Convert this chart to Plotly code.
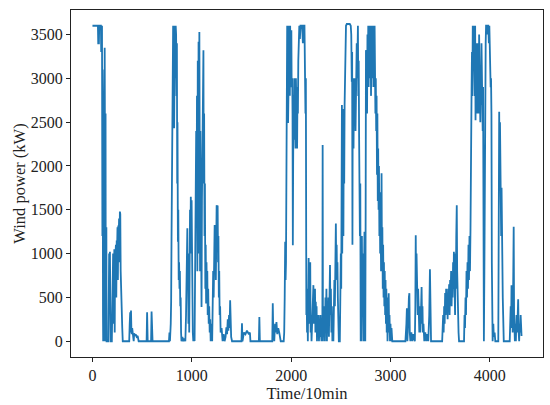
import plotly.graph_objects as go

# wind power series, 10-min samples (vertices only)

# part 1: t = 0 .. 760
t_a = [0, 20, 40, 55, 58, 65, 68, 85, 88, 92, 96, 100, 103, 106, 108, 112, 115, 118, 120, 123,
       126, 128, 130, 132, 134, 136, 138, 140, 142, 150, 160, 165, 168, 172, 176, 180, 183, 195,
       200, 205, 208, 212, 215, 220, 224, 228, 232, 236, 240, 244, 248, 252, 256, 260, 264, 268,
       272, 276, 280, 284, 288, 292, 296, 300, 305, 370, 375, 380, 384, 388, 392, 396, 400, 405,
       410, 415, 420, 428, 435, 445, 455, 465, 545, 550, 556, 590, 595, 600, 605, 760]
p_a = [3600, 3600, 3600, 3600, 3400, 3400, 3600, 3600, 3300, 3600, 3600, 1200, 2800, 300, 0, 2500,
       800, 3100, 0, 3350, 1500, 3200, 600, 2600, 0, 1400, 200, 1300, 0, 0, 0, 600, 1000, 900, 1020,
       300, 0, 0, 300, 900, 1000, 200, 980, 1050, 100, 1050, 1000, 1100, 500, 1150, 1050, 1300, 700,
       1320, 1200, 1400, 900, 1480, 1450, 800, 500, 400, 200, 150, 0, 0, 200, 330, 100, 350, 120, 80,
       150, 60, 100, 0, 90, 60, 80, 50, 60, 0, 0, 330, 0, 0, 340, 200, 0, 0]

# part 2: t = 760 .. 1900
t_b = [770, 775, 780, 788, 792, 796, 800, 803, 806, 812, 815, 818, 822, 825, 830, 835, 838, 842,
       846, 850, 853, 856, 860, 864, 868, 872, 876, 880, 884, 888, 892, 896, 905, 915, 925, 935,
       942, 946, 950, 955, 958, 962, 966, 970, 974, 978, 982, 986, 990, 994, 998, 1002, 1006, 1010,
       1015, 1022, 1028, 1032, 1036, 1040, 1044, 1048, 1052, 1056, 1060, 1064, 1068, 1072, 1076,
       1080, 1083, 1086, 1090, 1094, 1098, 1102, 1106, 1110, 1114, 1117, 1120, 1124, 1128, 1132,
       1136, 1140, 1144, 1148, 1152, 1156, 1160, 1165, 1170, 1175, 1180, 1185, 1190, 1195, 1200,
       1205, 1210, 1215, 1220, 1225, 1230, 1234, 1238, 1242, 1246, 1250, 1255, 1260, 1264, 1268,
       1272, 1276, 1280, 1285, 1290, 1300, 1310, 1320, 1330, 1340, 1348, 1355, 1362, 1368, 1375,
       1380, 1386, 1391, 1396, 1405, 1500, 1505, 1510, 1525, 1540, 1555, 1565, 1575, 1585, 1590,
       1675, 1680, 1685, 1810, 1815, 1820, 1830, 1838, 1845, 1852, 1860, 1870, 1880, 1888, 1895]
p_b = [0, 100, 0, 200, 450, 1200, 1820, 3000, 3600, 3600, 3200, 3600, 2430, 3600, 3600, 3000, 3600,
       3500, 2800, 3400, 1800, 2500, 1134, 1500, 700, 900, 600, 800, 400, 500, 100, 0, 50, 0, 30, 0,
       300, 800, 400, 1290, 600, 1000, 200, 800, 100, 1200, 1500, 1000, 1648, 1200, 1610, 800, 400,
       100, 0, 50, 0, 800, 1610, 1200, 2400, 1500, 2800, 800, 3200, 1000, 3418, 2000, 3530, 2600,
       800, 2400, 677, 1200, 390, 1600, 2500, 2900, 3304, 3320, 1800, 2600, 1200, 1800, 600, 1100,
       430, 900, 500, 800, 300, 600, 200, 400, 100, 250, 0, 100, 200, 0, 300, 800, 500, 1000, 1325,
       900, 1200, 700, 1400, 1553, 1300, 1550, 900, 1200, 500, 800, 300, 400, 100, 150, 0, 80, 0, 50,
       160, 80, 250, 120, 300, 150, 468, 200, 50, 0, 0, 205, 0, 100, 80, 120, 100, 80, 100, 0, 0,
       277, 0, 0, 434, 100, 0, 200, 100, 220, 80, 150, 100, 60, 0]

# part 3: t = 1900 .. 3030
t_c = [1925, 1930, 1935, 1940, 1944, 1948, 1952, 1956, 1960, 1963, 1966, 1969, 1972, 1975, 1978,
       1981, 1984, 1987, 1990, 1993, 1996, 1999, 2002, 2005, 2008, 2011, 2014, 2017, 2020, 2024,
       2028, 2032, 2036, 2040, 2044, 2048, 2052, 2056, 2060, 2064, 2068, 2072, 2076, 2082, 2088,
       2094, 2110, 2118, 2124, 2134, 2140, 2144, 2148, 2150, 2153, 2156, 2160, 2164, 2168, 2172,
       2176, 2180, 2184, 2188, 2192, 2196, 2200, 2205, 2210, 2215, 2220, 2224, 2228, 2232, 2236,
       2240, 2244, 2248, 2252, 2256, 2260, 2265, 2270, 2275, 2280, 2285, 2290, 2295, 2300, 2305,
       2310, 2314, 2317, 2320, 2325, 2330, 2335, 2340, 2345, 2350, 2355, 2360, 2365, 2370, 2375,
       2380, 2385, 2391, 2395, 2400, 2405, 2410, 2415, 2420, 2425, 2430, 2435, 2440, 2445, 2450,
       2454, 2458, 2462, 2466, 2470, 2475, 2480, 2490, 2495, 2500, 2504, 2508, 2511, 2514, 2517,
       2520, 2523, 2526, 2530, 2534, 2538, 2542, 2546, 2552, 2560, 2575, 2590, 2600, 2605, 2610,
       2614, 2617, 2620, 2624, 2628, 2632, 2636, 2640, 2644, 2648, 2652, 2656, 2660, 2664, 2668,
       2672, 2676, 2680, 2684, 2688, 2692, 2696, 2700, 2704, 2708, 2712, 2716, 2720, 2724, 2730,
       2734, 2738, 2742, 2746, 2750, 2753, 2756, 2760, 2764, 2768, 2772, 2776, 2780, 2784, 2788,
       2792, 2796, 2800, 2804, 2808, 2812, 2816, 2820, 2824, 2828, 2832, 2836, 2840, 2844, 2848,
       2852, 2856, 2860, 2864, 2868, 2872, 2876, 2880, 2884, 2888, 2892, 2896, 2900, 2905, 2910,
       2914, 2918, 2922, 2926, 2930, 2934, 2938, 2942, 2946, 2950, 2954, 2958, 2962, 2966, 2970,
       2974, 2978, 2982, 2986, 2990, 2995, 3000, 3005, 3010, 3018]
p_c = [0, 100, 500, 1134, 700, 900, 2000, 3000, 3600, 3200, 3600, 2490, 3500, 3000, 3600, 2900, 3400,
       2800, 3600, 3100, 3600, 3200, 3550, 2900, 3400, 3000, 2600, 1096, 2000, 2800, 2300, 3000, 2400,
       2900, 2200, 3000, 2500, 2700, 2200, 2900, 2600, 3200, 3600, 3600, 3450, 3600, 3600, 3400, 3600,
       3600, 3000, 2600, 3000, 1000, 300, 600, 100, 400, 0, 500, 950, 200, 800, 300, 900, 100, 300, 0,
       200, 100, 400, 640, 200, 500, 300, 600, 100, 450, 200, 400, 0, 250, 100, 300, 0, 200, 50, 300,
       100, 0, 150, 0, 2238, 0, 300, 100, 400, 0, 500, 200, 600, 0, 350, 100, 500, 50, 600, 870, 300,
       600, 100, 400, 0, 200, 0, 300, 700, 400, 1000, 1344, 800, 1100, 700, 900, 500, 200, 0, 0, 300,
       1000, 600, 2000, 2695, 1000, 2400, 1400, 2650, 1200, 2600, 1800, 2700, 3200, 3500, 3600, 3620,
       3620, 3620, 3600, 3500, 2960, 3300, 1100, 2900, 2600, 2200, 3000, 2700, 2500, 3000, 2400, 2900,
       2600, 3400, 3000, 3400, 3600, 2800, 3200, 2330, 2000, 1200, 1800, 0, 300, 0, 1200, 600, 1000, 0,
       0, 800, 1250, 400, 0, 1500, 3322, 2800, 3300, 2600, 3500, 3000, 3600, 2900, 3500, 3000, 3600,
       3100, 3600, 2800, 3550, 3000, 3600, 3200, 3600, 2900, 3500, 3000, 3600, 3100, 2600, 3000, 2400,
       2800, 1900, 2600, 1600, 2200, 1500, 2000, 1200, 1700, 1000, 1500, 800, 1918, 900, 1300, 600,
       1100, 500, 900, 400, 800, 300, 700, 200, 600, 100, 500, 0, 400, 200, 548, 100, 300, 0, 200, 0,
       150, 0]

# part 4: t = 3030 .. 4319
t_d = [3150, 3160, 3165, 3170, 3175, 3180, 3185, 3190, 3194, 3200, 3210, 3220, 3230, 3245, 3250,
       3254, 3258, 3262, 3266, 3270, 3274, 3278, 3282, 3286, 3290, 3295, 3300, 3306, 3313, 3318,
       3322, 3326, 3332, 3340, 3350, 3360, 3370, 3380, 3390, 3397, 3402, 3408, 3520, 3525, 3530,
       3535, 3540, 3545, 3550, 3555, 3560, 3565, 3570, 3575, 3580, 3585, 3590, 3595, 3600, 3605,
       3610, 3615, 3620, 3625, 3630, 3634, 3638, 3642, 3646, 3650, 3654, 3658, 3662, 3667, 3671,
       3675, 3680, 3685, 3690, 3740, 3745, 3750, 3755, 3760, 3765, 3770, 3775, 3780, 3785, 3790,
       3795, 3800, 3805, 3809, 3812, 3816, 3820, 3824, 3828, 3832, 3836, 3840, 3844, 3848, 3852,
       3856, 3860, 3864, 3868, 3872, 3876, 3880, 3884, 3888, 3892, 3896, 3900, 3904, 3908, 3912,
       3916, 3920, 3924, 3928, 3932, 3936, 3940, 3945, 3950, 3954, 3958, 3962, 3968, 3972, 3976,
       3984, 3990, 3995, 4000, 4004, 4008, 4012, 4016, 4020, 4024, 4028, 4035, 4040, 4048, 4055,
       4085, 4090, 4094, 4098, 4102, 4106, 4110, 4114, 4118, 4122, 4126, 4130, 4134, 4140, 4200,
       4205, 4210, 4214, 4218, 4222, 4226, 4230, 4236, 4240, 4244, 4248, 4252, 4258, 4262, 4268,
       4272, 4278, 4285, 4290, 4295, 4300, 4305, 4310, 4315, 4319]
p_d = [0, 200, 377, 0, 100, 300, 500, 548, 100, 0, 100, 0, 80, 0, 400, 1210, 600, 1000, 400, 800, 300,
       600, 200, 500, 100, 400, 100, 300, 620, 200, 400, 100, 200, 0, 100, 0, 80, 0, 300, 822, 200, 0,
       0, 100, 300, 100, 400, 200, 550, 300, 600, 350, 500, 250, 600, 400, 650, 300, 700, 500, 800, 400,
       750, 500, 900, 600, 1020, 500, 800, 300, 1000, 600, 1200, 1553, 800, 400, 250, 100, 0, 0, 300,
       150, 500, 300, 800, 500, 900, 600, 1100, 700, 1200, 800, 1267, 2430, 1600, 2865, 3300, 2800,
       3600, 3200, 3600, 2900, 3500, 2800, 3600, 2523, 3400, 2700, 3300, 2600, 3400, 2800, 3200, 2600,
       3500, 2900, 3300, 2500, 3100, 2700, 3400, 2600, 3000, 2400, 2900, 1000, 0, 800, 2500, 3000, 3400,
       3600, 3600, 3500, 3600, 3600, 3400, 3600, 3100, 3300, 2900, 3000, 2600, 890, 400, 0, 200, 50,
       100, 0, 0, 1200, 2620, 1800, 2500, 1500, 1820, 1200, 1750, 1000, 1300, 500, 300, 0, 0, 200, 400,
       150, 640, 200, 500, 100, 800, 1305, 300, 100, 0, 200, 0, 300, 100, 200, 480, 100, 0, 200, 100,
       300, 100, 60]

x_ticks = [0, 1000, 2000, 3000, 4000]
y_ticks = [0, 500, 1000, 1500, 2000, 2500, 3000, 3500]

time_idx = t_a + t_b + t_c + t_d
power_kw = p_a + p_b + p_c + p_d

fig = go.Figure(go.Scatter(
    x=time_idx, y=power_kw, mode="lines",
    line=dict(color="#1f77b4", width=1.8),
))

axis_style = dict(
    showgrid=False, zeroline=False, automargin=False,
    showline=True, linecolor="#222222", linewidth=1, mirror=True,
    ticks="outside", ticklen=4, tickwidth=1, tickcolor="#222222",
    tickfont=dict(size=16),
)

fig.update_layout(
    width=550, height=405,
    margin=dict(l=71, r=7, t=10, b=48),
    plot_bgcolor="white", paper_bgcolor="white",
    font=dict(family="Liberation Serif, serif", size=16, color="#222222"),
    showlegend=False,
    xaxis=dict(range=[-216, 4535], tickvals=x_ticks,
               title=dict(text="Time/10min", standoff=2, font=dict(size=16.5)), **axis_style),
    yaxis=dict(range=[-180, 3780], tickvals=y_ticks,
               title=dict(text="Wind power (kW)", standoff=1, font=dict(size=16.5)), **axis_style),
)

# page has a default 8px body margin; drop it so the figure fills the window
fig.write_html("out.html", config={"displayModeBar": False},
               post_script="document.body.style.margin='0';"
                           "document.documentElement.style.overflow='hidden';")
